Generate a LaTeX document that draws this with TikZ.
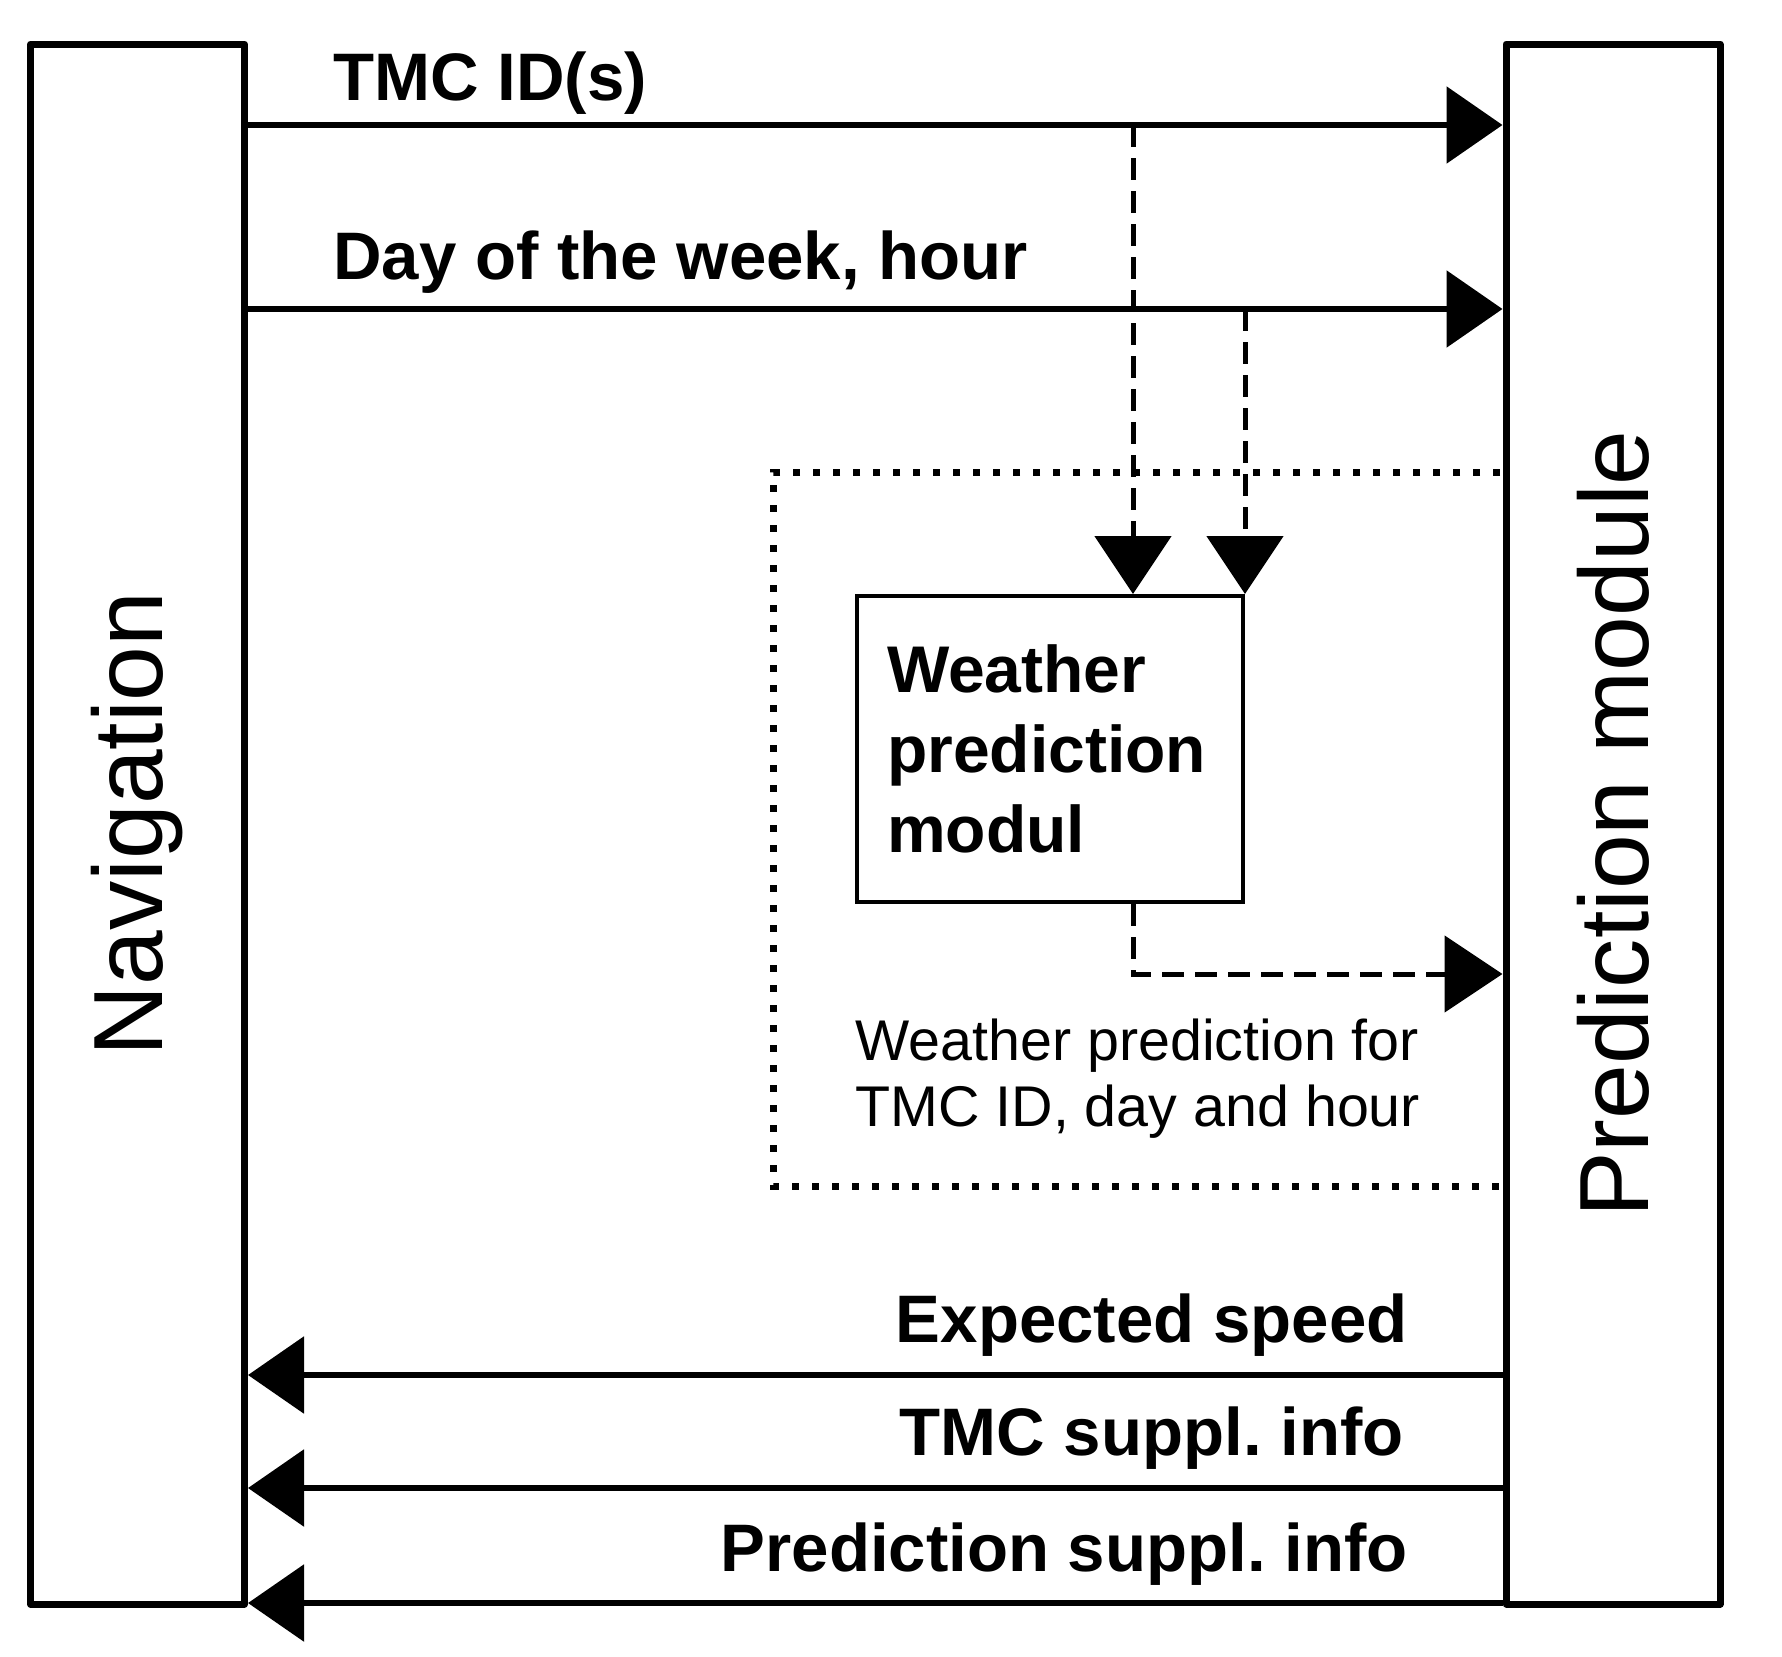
\documentclass[tikz,border=0pt]{standalone}
\usepackage{fontspec}
\setmainfont{Liberation Sans}
\usetikzlibrary{arrows.meta}
\frenchspacing
\tikzset{
    module-box/.style = {draw, line width=3.5pt, line join=round, rectangle, minimum width=107pt, minimum height=780pt, inner sep=0pt},
    module-title/.style = {rotate=90, inner sep=0pt, font=\fontsize{49.2}{56}\selectfont},
    weather-box/.style = {draw, line width=2pt, rectangle, minimum width=193pt, minimum height=153pt, inner ysep=0pt, inner xsep=15pt, text width=163pt, align=left, font=\bfseries\fontsize{33}{40}\selectfont},
    msg-arrow/.style = {line width=3pt, -{Triangle[length=28pt, width=38pt]}},
    dash-arrow/.style = {line width=2.5pt, dash pattern=on 11pt off 5.5pt, -{Triangle[length=29pt, width=38pt]}},
    dot-frame/.style = {line width=3.5pt, dash pattern=on 3.5pt off 6.5pt},
    msg-label/.style = {inner sep=0pt, font=\bfseries\fontsize{33.6}{40}\selectfont},
    note-label/.style = {inner sep=0pt, align=left, font=\fontsize{28.7}{33}\selectfont},
}
\begin{document}
\begin{tikzpicture}[x=0.5pt, y=-0.5pt]
\useasboundingbox (0,0) rectangle (1782,1656);
\node[module-box] (nav) at (137.5,824) {};
\node[module-box] (pred) at (1613,824) {};
\node[module-title] (nav-title) at (nav.center) {Navigation};
\node[module-title] (pred-title) at (pred.center) {Prediction module};

\coordinate (m1) at (0,125);
\coordinate (m2) at (0,309);
\draw[msg-arrow] (nav.east |- m1) -- (pred.west |- m1);
\draw[msg-arrow] (nav.east |- m2) -- (pred.west |- m2);
\node[msg-label, anchor=base west] (tmc-label) at (333,100) {TMC ID(s)};
\node[msg-label, anchor=base west] (day-label) at (333,279) {Day of the week, hour};

\coordinate (dot-tl) at (773,472);
\coordinate (dot-bl) at (773,1186);
\draw[dot-frame] (1500,472) -- (dot-tl) -- (dot-bl) -- (1500,1186);

\node[weather-box] (wpm) at (1050,749) {Weather\\prediction\\modul};
\coordinate (tap) at (1133,125);
\draw[dash-arrow] (tap) -- (tap |- wpm.north);
\draw[dash-arrow] (wpm.north east |- m2) -- (wpm.north east);
\coordinate (out) at (1133,974);
\draw[dash-arrow] (out |- wpm.south) -- (out) -- (pred.west |- out);
\node[note-label, anchor=north west] (wpm-label) at (855,1018) {Weather prediction for\\TMC ID, day and hour};

\foreach \y/\name in {1375/speed, 1488/tmcinfo, 1603/predinfo}
    \coordinate (\name) at (0,\y);
\draw[msg-arrow] (pred.west |- speed) -- (nav.east |- speed);
\draw[msg-arrow] (pred.west |- tmcinfo) -- (nav.east |- tmcinfo);
\draw[msg-arrow] (pred.west |- predinfo) -- (nav.east |- predinfo);
\node[msg-label, anchor=base east] (speed-label) at (1408,1342) {Expected speed};
\node[msg-label, anchor=base east] (tmcinfo-label) at (1404,1455) {TMC suppl. info};
\node[msg-label, anchor=base east] (predinfo-label) at (1408,1571) {Prediction suppl. info};
\end{tikzpicture}
\end{document}
